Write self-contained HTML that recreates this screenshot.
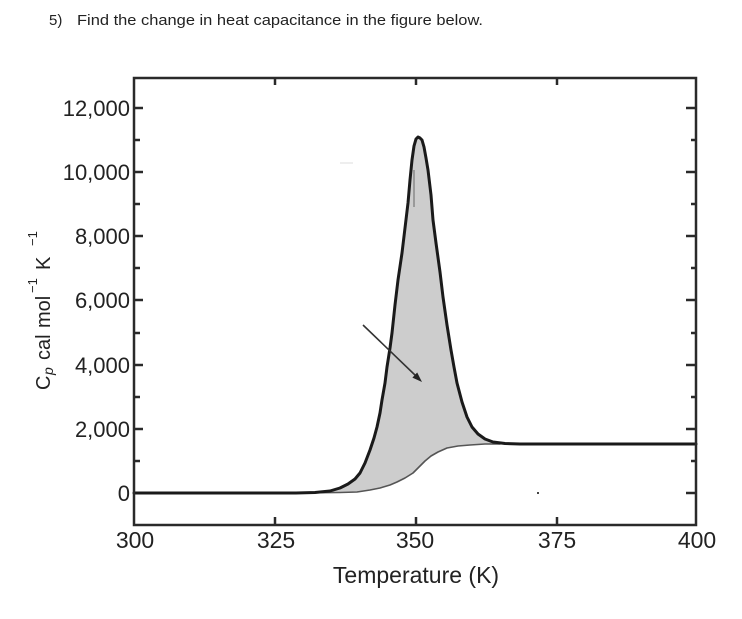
<!DOCTYPE html>
<html>
<head>
<meta charset="utf-8">
<style>
  html, body { margin:0; padding:0; background:#ffffff; }
  svg { display:block; }
  text { font-family: "Liberation Sans", "DejaVu Sans", sans-serif; fill:#222; }
</style>
</head>
<body>
<svg width="742" height="619" viewBox="0 0 742 619" xmlns="http://www.w3.org/2000/svg">
  <rect x="0" y="0" width="742" height="619" fill="#ffffff"/>

  <!-- Title -->
  <text x="49" y="25" font-size="15">5)</text>
  <text x="77" y="25" font-size="15" textLength="406" lengthAdjust="spacingAndGlyphs">Find the change in heat capacitance in the figure below.</text>

  <!-- Fill between curves -->
  <path fill="#cdcdcd" stroke="none" d="
    M296,493 L315,492.5 L330,491 L340,488 L348,484 L355,479 L360,473 L365,463 L370,450 L374,438 L377,427 L380,413 L382,400 L385,383 L387,367 L390,348 L392,333 L395,305 L398,280 L402,253 L405,228 L408,203 L410,180 L412,160 L414,146 L416,139 L418,137 L420,138 L422,140 L424,147 L426,158 L428,170 L431,195 L433,220 L436,243 L440,272 L443,297 L447,325 L451,350 L454,367 L457,383 L462,402 L467,417 L472,427 L478,434 L485,439 L493,442 L505,443.5 L520,444
    L500,444 L485,444 L470,445 L458,446 L447,448 L438,452 L431,456 L425,461 L419,467 L413,473 L405,478 L397,482 L390,485 L380,488 L370,490 L357,492 L340,492.5 Z"/>

  <!-- Lower (baseline) curve -->
  <polyline fill="none" stroke="#555" stroke-width="1.6" stroke-linejoin="round" stroke-linecap="round"
    points="296,493 340,492.5 357,492 370,490 380,488 390,485 397,482 405,478 413,473 419,467 425,461 431,456 438,452 447,448 458,446 470,445 485,444 500,444"/>

  <!-- Upper curve -->
  <polyline fill="none" stroke="#1a1a1a" stroke-width="3" stroke-linejoin="round" stroke-linecap="round"
    points="134,493 296,493 315,492.5 330,491 340,488 348,484 355,479 360,473 365,463 370,450 374,438 377,427 380,413 382,400 385,383 387,367 390,348 392,333 395,305 398,280 402,253 405,228 408,203 410,180 412,160 414,146 416,139 418,137 420,138 422,140 424,147 426,158 428,170 431,195 433,220 436,243 440,272 443,297 447,325 451,350 454,367 457,383 462,402 467,417 472,427 478,434 485,439 493,442 505,443.5 520,444 696,444"/>

  <!-- inner line at peak -->
  <line x1="414" y1="170" x2="414" y2="207" stroke="#888" stroke-width="1.5"/>
  <line x1="340" y1="163" x2="353" y2="163" stroke="#ddd" stroke-width="1"/>

  <!-- Arrow -->
  <line x1="363" y1="325" x2="416" y2="376" stroke="#333" stroke-width="1.6"/>
  <polygon points="422,382 412.4,377.6 417.2,372.5" fill="#222"/>

  <!-- small dot -->
  <rect x="537" y="492" width="2" height="2" fill="#444"/>

  <!-- Frame -->
  <rect x="134" y="78" width="562" height="447" fill="none" stroke="#2a2a2a" stroke-width="2.5"/>

  <!-- Left ticks -->
  <g stroke="#2a2a2a" stroke-width="2.5">
    <line x1="134" y1="108" x2="143" y2="108"/>
    <line x1="134" y1="172" x2="143" y2="172"/>
    <line x1="134" y1="236" x2="143" y2="236"/>
    <line x1="134" y1="300" x2="143" y2="300"/>
    <line x1="134" y1="365" x2="143" y2="365"/>
    <line x1="134" y1="429" x2="143" y2="429"/>
    <line x1="134" y1="140" x2="140" y2="140"/>
    <line x1="134" y1="204" x2="140" y2="204"/>
    <line x1="134" y1="268" x2="140" y2="268"/>
    <line x1="134" y1="333" x2="140" y2="333"/>
    <line x1="134" y1="397" x2="140" y2="397"/>
    <line x1="134" y1="461" x2="140" y2="461"/>
  </g>
  <!-- Right ticks -->
  <g stroke="#2a2a2a" stroke-width="2.5">
    <line x1="696" y1="108" x2="686" y2="108"/>
    <line x1="696" y1="172" x2="686" y2="172"/>
    <line x1="696" y1="236" x2="686" y2="236"/>
    <line x1="696" y1="300" x2="686" y2="300"/>
    <line x1="696" y1="365" x2="686" y2="365"/>
    <line x1="696" y1="429" x2="686" y2="429"/>
    <line x1="696" y1="493" x2="686" y2="493"/>
    <line x1="696" y1="140" x2="691" y2="140"/>
    <line x1="696" y1="204" x2="691" y2="204"/>
    <line x1="696" y1="268" x2="691" y2="268"/>
    <line x1="696" y1="333" x2="691" y2="333"/>
    <line x1="696" y1="397" x2="691" y2="397"/>
    <line x1="696" y1="461" x2="691" y2="461"/>
  </g>
  <!-- Top/bottom ticks -->
  <g stroke="#2a2a2a" stroke-width="2.5">
    <line x1="275" y1="525" x2="275" y2="517"/>
    <line x1="416" y1="525" x2="416" y2="517"/>
    <line x1="557" y1="525" x2="557" y2="517"/>
    <line x1="275" y1="78" x2="275" y2="85"/>
    <line x1="416" y1="78" x2="416" y2="85"/>
    <line x1="557" y1="78" x2="557" y2="85"/>
  </g>

  <!-- Y tick labels -->
  <g font-size="22" text-anchor="end">
    <text x="130" y="116">12,000</text>
    <text x="130" y="180">10,000</text>
    <text x="130" y="244">8,000</text>
    <text x="130" y="308">6,000</text>
    <text x="130" y="373">4,000</text>
    <text x="130" y="437">2,000</text>
    <text x="130" y="501">0</text>
  </g>

  <!-- X tick labels -->
  <g font-size="23" text-anchor="middle">
    <text x="135" y="548">300</text>
    <text x="276" y="548">325</text>
    <text x="415" y="548">350</text>
    <text x="557" y="548">375</text>
    <text x="697" y="548">400</text>
  </g>

  <!-- X axis title -->
  <text x="416" y="583" font-size="23" text-anchor="middle">Temperature (K)</text>

  <!-- Y axis title -->
  <g transform="translate(50,390) rotate(-90)" font-size="20">
    <text x="0" y="0">C</text>
    <text x="15" y="3" font-size="14" font-style="italic">p</text>
    <text x="30" y="0">cal</text>
    <text x="62" y="0">mol</text>
    <text x="97" y="-13" font-size="13">−1</text>
    <text x="120" y="0">K</text>
    <text x="144" y="-13" font-size="13">−1</text>
  </g>
</svg>
</body>
</html>
